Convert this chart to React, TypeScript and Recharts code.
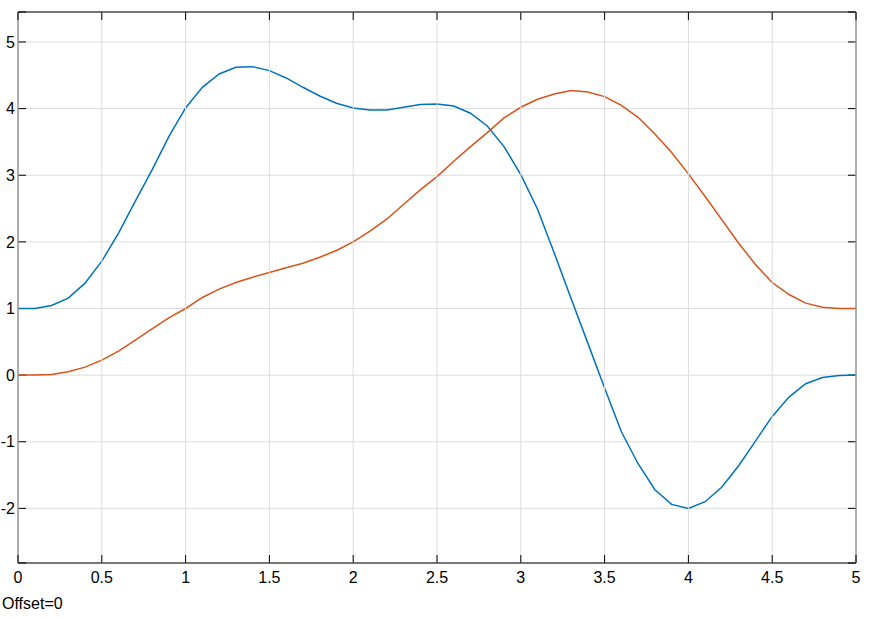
import React from "react";
import { LineChart, Line, XAxis, YAxis, CartesianGrid } from "recharts";

const xValues = [
  0, 0.1, 0.2, 0.3, 0.4, 0.5, 0.6, 0.7, 0.8, 0.9,
  1, 1.1, 1.2, 1.3, 1.4, 1.5, 1.6, 1.7, 1.8, 1.9,
  2, 2.1, 2.2, 2.3, 2.4, 2.5, 2.6, 2.7, 2.8, 2.9,
  3, 3.1, 3.2, 3.3, 3.4, 3.5, 3.6, 3.7, 3.8, 3.9,
  4, 4.1, 4.2, 4.3, 4.4, 4.5, 4.6, 4.7, 4.8, 4.9, 5,
];

const blueValues = [
  1.0, 1.0, 1.045, 1.155, 1.38, 1.71, 2.13, 2.61, 3.08, 3.58,
  4.01, 4.32, 4.52, 4.62, 4.63, 4.57, 4.46, 4.32, 4.19, 4.08,
  4.01, 3.98, 3.98, 4.02, 4.06, 4.07, 4.04, 3.93, 3.74, 3.43,
  3.01, 2.49, 1.83, 1.15, 0.48, -0.195, -0.85, -1.33, -1.72, -1.94,
  -2.0, -1.9, -1.68, -1.36, -0.99, -0.62, -0.33, -0.13, -0.035, -0.005, 0,
];

const orangeValues = [
  0, 0, 0.01, 0.05, 0.12, 0.225, 0.36, 0.525, 0.695, 0.86,
  1.0, 1.165, 1.29, 1.39, 1.47, 1.54, 1.61, 1.68, 1.77, 1.87,
  2.0, 2.16, 2.34, 2.56, 2.78, 2.98, 3.21, 3.43, 3.64, 3.86,
  4.02, 4.14, 4.22, 4.27, 4.25, 4.18, 4.05, 3.87, 3.62, 3.34,
  3.02, 2.68, 2.33, 1.98, 1.66, 1.39, 1.21, 1.08, 1.02, 1.0, 1.0,
];

const xTicks = [0, 0.5, 1, 1.5, 2, 2.5, 3, 3.5, 4, 4.5, 5];
const yTicks = [-2, -1, 0, 1, 2, 3, 4, 5];

const data = xValues.map((x, i) => ({ x, a: blueValues[i], b: orangeValues[i] }));

const FONT = "Arial, 'Liberation Sans', Helvetica, sans-serif";
const tickStyle = { fill: "#000", fontSize: 16, fontFamily: FONT };
const X_DOMAIN: [number, number] = [0, 5];
const Y_DOMAIN: [number, number] = [-2.82, 5.45];
const TICK_LEN = 8;
const GRID = "#dcdcdc";
const MARGIN_TOP = 12;
const X_LABEL_GAP = 9;

// bottom axis tick: label, vertical grid line and inward ticks at top and bottom
const BottomTick = (props: any) => {
  const { x, y, payload } = props;
  const bottom = y - X_LABEL_GAP;
  const top = MARGIN_TOP;
  return (
    <g>
      <line x1={x} x2={x} y1={top} y2={bottom} stroke={GRID} />
      <line x1={x} x2={x} y1={top} y2={top + TICK_LEN} stroke="#000" />
      <line x1={x} x2={x} y1={bottom - TICK_LEN} y2={bottom} stroke="#000" />
      <text x={x} y={y} dy="0.71em" textAnchor="middle" fontSize={16} fontFamily={FONT} fill="#000">
        {payload.value}
      </text>
    </g>
  );
};

// horizontal grid lines with inward ticks at both ends
const HorizontalGridLine = (props: any) => {
  const { x1, x2, y1, y2 } = props;
  const left = Math.min(x1, x2);
  const right = Math.max(x1, x2);
  return (
    <g>
      <line x1={left} x2={right} y1={y1} y2={y2} stroke={GRID} />
      <line x1={left} x2={left + TICK_LEN} y1={y1} y2={y2} stroke="#000" />
      <line x1={right - TICK_LEN} x2={right} y1={y1} y2={y2} stroke="#000" />
    </g>
  );
};

export default function App() {
  return (
    <div style={{ position: "absolute", left: 0, top: 0, width: 875, height: 619, background: "#fff" }}>
      <LineChart
        width={875}
        height={619}
        data={data}
        margin={{ top: MARGIN_TOP, right: 19, left: 0, bottom: 26 }}
      >
        <CartesianGrid
          xAxisId="x"
          yAxisId="y"
          vertical={false}
          horizontal={HorizontalGridLine}
        />
        <XAxis
          xAxisId="x"
          dataKey="x"
          type="number"
          domain={X_DOMAIN}
          ticks={xTicks}
          allowDataOverflow
          height={30}
          tickLine={false}
          tickSize={0}
          tickMargin={X_LABEL_GAP}
          axisLine={{ stroke: "#000", strokeWidth: 1 }}
          tick={BottomTick}
        />
        <XAxis
          xAxisId="xt"
          dataKey="x"
          orientation="top"
          type="number"
          domain={X_DOMAIN}
          ticks={xTicks}
          allowDataOverflow
          mirror
          tick={false}
          tickLine={false}
          axisLine={{ stroke: "#000", strokeWidth: 1 }}
        />
        <YAxis
          yAxisId="y"
          type="number"
          domain={Y_DOMAIN}
          ticks={yTicks}
          allowDataOverflow
          width={18}
          tickLine={false}
          tickSize={0}
          tickMargin={3}
          axisLine={{ stroke: "#000", strokeWidth: 1 }}
          tick={tickStyle}
        />
        <YAxis
          yAxisId="yr"
          orientation="right"
          type="number"
          domain={Y_DOMAIN}
          ticks={yTicks}
          allowDataOverflow
          mirror
          tick={false}
          tickLine={false}
          axisLine={{ stroke: "#000", strokeWidth: 1 }}
        />
        <Line
          xAxisId="x"
          yAxisId="y"
          type="linear"
          dataKey="a"
          stroke="#0072BD"
          strokeWidth={1.5}
          dot={false}
          isAnimationActive={false}
        />
        <Line
          xAxisId="x"
          yAxisId="y"
          type="linear"
          dataKey="b"
          stroke="#D95319"
          strokeWidth={1.5}
          dot={false}
          isAnimationActive={false}
        />
      </LineChart>
      <div
        style={{
          position: "absolute",
          left: 2,
          top: 595,
          fontFamily: FONT,
          fontSize: 16,
          color: "#000",
          whiteSpace: "nowrap",
        }}
      >
        Offset=0
      </div>
    </div>
  );
}
